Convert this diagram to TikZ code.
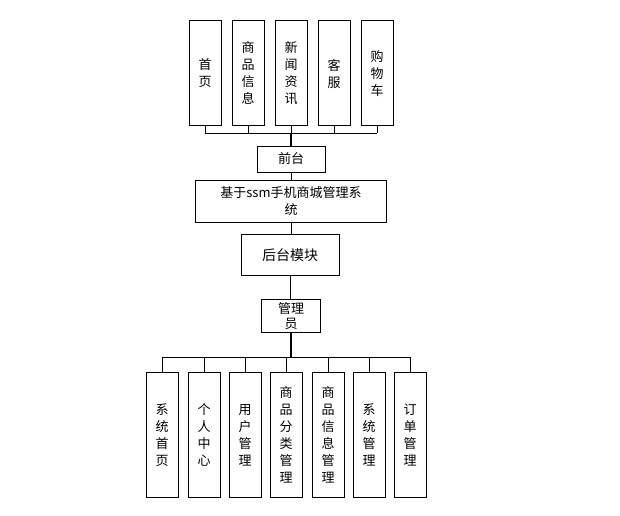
\documentclass[tikz,border=0pt]{standalone}
\usepackage{fontspec}
\setmainfont{Noto Sans CJK SC}
\begin{document}
\begin{tikzpicture}[x=1pt,y=-1pt,
  bx/.style={draw,line width=1pt,fill=white,inner sep=0pt,align=center,font=\fontsize{13}{17}\selectfont},
  ln/.style={line width=0.8pt}]
\useasboundingbox (0,0) rectangle (620,515);
\foreach \n/\x/\t in {t1/205/首\\页, t2/248/商\\品\\信\\息, t3/291/新\\闻\\资\\讯, t4/334/客\\服, t5/377/购\\物\\车}{
  \node[bx,minimum width=32pt,minimum height=105pt,anchor=north,text depth=0pt] (\n) at (\x,20) {\t};
}
\coordinate (tb) at (291,133);
\node[bx,minimum width=68pt,minimum height=26pt] (qt) at (291,159) {前台};
\node[bx,minimum width=191pt,minimum height=42pt] (sys) at (291,201) {基于ssm手机商城管理系\\统};
\node[bx,minimum width=98pt,minimum height=41pt,font=\fontsize{14}{17}\selectfont] (ht) at (290,255) {后台模块};
\node[bx,minimum width=59pt,minimum height=33pt,font=\fontsize{13}{15}\selectfont] (gly) at (291,316) {管理\\员};
\coordinate (bb) at (291,357);
\foreach \n/\x/\t in {b1/162/系\\统\\首\\页, b2/204/个\\人\\中\\心, b3/245/用\\户\\管\\理, b4/286/商\\品\\分\\类\\管\\理, b5/328/商\\品\\信\\息\\管\\理, b6/369/系\\统\\管\\理, b7/410/订\\单\\管\\理}{
  \node[bx,minimum width=32pt,minimum height=125pt,anchor=north] (\n) at (\x,372) {\t};
  \draw[ln] (\n.north) -- (\x,357);
}
\draw[ln] (162,357) -- (410,357);
\draw[line width=1.5pt] (gly.south) -- (bb);
\foreach \n/\x in {t1/205,t2/248,t3/291,t4/334,t5/377}{\draw[ln] (\n.south) -- (\x,133);}
\draw[ln] (205,133) -- (377,133);
\draw[line width=1.5pt] (tb) -- (qt.north);
\draw[ln] (qt.south) -- (qt.south |- sys.north);
\draw[ln] (sys.south) -- (sys.south |- ht.north);
\draw[ln] (ht.south) -- (ht.south |- gly.north);
\end{tikzpicture}
\end{document}
